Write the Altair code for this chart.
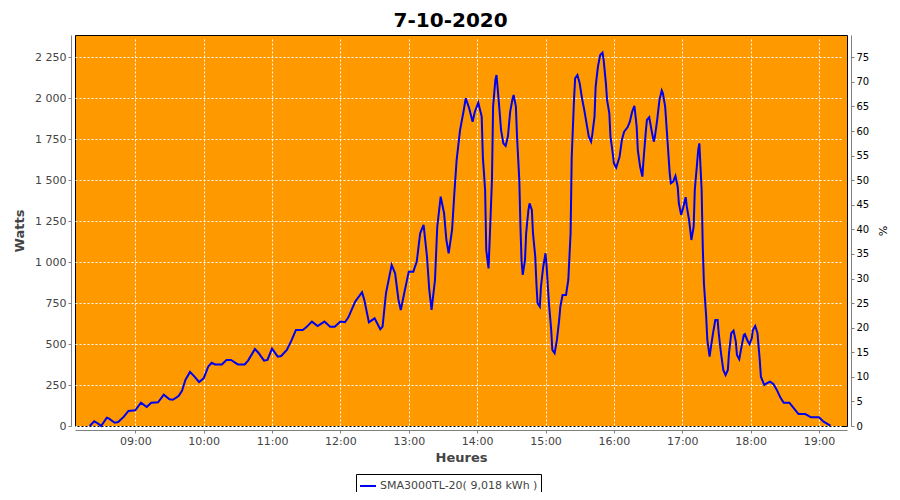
import altair as alt
import pandas as pd

title_text = "7-10-2020"
series_name = "SMA3000TL-20( 9,018 kWh )"

times = [
    "08:20", "08:24", "08:28", "08:30", "08:35", "08:37", "08:42", "08:45", "08:50", "08:54",
    "09:00", "09:05", "09:10", "09:14", "09:20", "09:25", "09:30", "09:33", "09:38", "09:41",
    "09:44", "09:48", "09:52", "09:56", "10:00", "10:04", "10:07", "10:10", "10:16", "10:20",
    "10:24", "10:30", "10:36", "10:39", "10:45", "10:48", "10:53", "10:56", "11:00", "11:05",
    "11:08", "11:13", "11:17", "11:21", "11:27", "11:30", "11:35", "11:40", "11:46", "11:51",
    "11:55", "12:00", "12:04", "12:07", "12:13", "12:19", "12:21", "12:25", "12:30", "12:35",
    "12:37", "12:40", "12:45", "12:48", "12:51", "12:53", "12:56", "13:00", "13:04", "13:07",
    "13:10", "13:13", "13:16", "13:18", "13:20", "13:23", "13:25", "13:28", "13:31", "13:33",
    "13:35", "13:38", "13:40", "13:42", "13:45", "13:48", "13:50", "13:53", "13:56", "13:58",
    "14:01", "14:04", "14:05", "14:07", "14:08", "14:10", "14:11", "14:13", "14:14", "14:16",
    "14:17", "14:19", "14:21", "14:23", "14:25", "14:27", "14:29", "14:31", "14:32", "14:34",
    "14:35", "14:37", "14:38", "14:39", "14:40", "14:42", "14:43", "14:45", "14:46", "14:48",
    "14:49", "14:51", "14:52", "14:53", "14:55", "14:56", "14:58", "15:00", "15:01", "15:03",
    "15:05", "15:06", "15:08", "15:10", "15:12", "15:13", "15:15", "15:18", "15:20", "15:22",
    "15:23", "15:25", "15:26", "15:28", "15:30", "15:32", "15:34", "15:36", "15:38", "15:40",
    "15:41", "15:43", "15:44", "15:46", "15:48", "15:50", "15:51", "15:53", "15:54", "15:56",
    "15:57", "15:59", "16:00", "16:02", "16:05", "16:07", "16:09", "16:12", "16:14", "16:16",
    "16:18", "16:20", "16:21", "16:23", "16:25", "16:26", "16:28", "16:29", "16:31", "16:33",
    "16:35", "16:36", "16:38", "16:40", "16:42", "16:43", "16:45", "16:47", "16:49", "16:50",
    "16:52", "16:54", "16:56", "16:57", "16:59", "17:01", "17:03", "17:04", "17:06", "17:08",
    "17:10", "17:11", "17:13", "17:14", "17:15", "17:17", "17:18", "17:19", "17:21", "17:22",
    "17:24", "17:25", "17:27", "17:29", "17:31", "17:32", "17:34", "17:36", "17:38", "17:40",
    "17:41", "17:43", "17:45", "17:47", "17:48", "17:50", "17:52", "17:54", "17:55", "17:57",
    "17:59", "18:01", "18:02", "18:04", "18:06", "18:08", "18:09", "18:12", "18:14", "18:17",
    "18:20", "18:23", "18:26", "18:29", "18:34", "18:38", "18:42", "18:48", "18:53", "19:00",
    "19:04", "19:10",
]

watts = [
    0, 29, 12, 0, 51, 45, 20, 24, 57, 92,
    96, 142, 116, 142, 145, 191, 163, 160, 183, 214,
    281, 330, 301, 268, 291, 362, 386, 376, 376, 403,
    403, 376, 376, 399, 470, 447, 399, 403, 472, 423,
    427, 464, 521, 586, 586, 602, 637, 610, 637, 606,
    606, 637, 633, 663, 759, 816, 769, 633, 657, 590,
    606, 810, 983, 932, 769, 708, 810, 942, 942, 1003,
    1176, 1227, 1033, 830, 708, 891, 1216, 1400, 1298, 1135,
    1054, 1196, 1420, 1623, 1806, 1918, 2000, 1939, 1857, 1918,
    1973, 1888, 1643, 1440, 1074, 962, 1135, 1501, 1949, 2112,
    2142, 1979, 1806, 1725, 1709, 1766, 1918, 1994, 2020, 1949,
    1766, 1501, 1216, 1003, 922, 1013, 1176, 1318, 1359, 1318,
    1176, 1033, 871, 749, 728, 850, 972, 1054, 972, 749,
    586, 464, 444, 525, 647, 728, 800, 800, 891, 1176,
    1643, 1990, 2122, 2142, 2091, 2000, 1929, 1847, 1766, 1735,
    1776, 1888, 2071, 2193, 2264, 2278, 2234, 2091, 1990, 1908,
    1766, 1664, 1603, 1576, 1643, 1745, 1796, 1823, 1857, 1918,
    1953, 1827, 1684, 1583, 1522, 1623, 1796, 1868, 1884, 1806,
    1735, 1766, 1868, 1990, 2047, 2030, 1949, 1745, 1542, 1481,
    1491, 1526, 1460, 1359, 1288, 1338, 1396, 1338, 1257, 1135,
    1216, 1440, 1603, 1684, 1725, 1440, 1094, 871, 667, 525,
    423, 474, 566, 647, 647, 566, 444, 342, 311, 342,
    444, 566, 582, 515, 433, 407, 484, 555, 561, 525,
    500, 535, 586, 610, 566, 403, 301, 250, 260, 270,
    256, 220, 175, 142, 142, 108, 73, 73, 53, 53,
    26, 2,
]

watt_ticks = [0, 250, 500, 750, 1000, 1250, 1500, 1750, 2000, 2250]
pct_ticks = [0, 5, 10, 15, 20, 25, 30, 35, 40, 45, 50, 55, 60, 65, 70, 75]
hour_ticks = [9, 10, 11, 12, 13, 14, 15, 16, 17, 18, 19]

df = pd.DataFrame({
    "t": ["2020-10-07T" + s + ":00" for s in times],
    "w": watts,
    "serie": [series_name] * len(times),
})


def dt(h, m=0, s=0):
    return alt.DateTime(year=2020, month=10, date=7, hours=h, minutes=m, seconds=s)


FONT = "DejaVu Sans"
x_enc = alt.X(
    "t:T",
    scale=alt.Scale(domain=[dt(8, 7, 6), dt(19, 24, 34)], nice=False),
    axis=alt.Axis(
        values=[dt(h) for h in hour_ticks],
        format="%H:%M",
        title="Heures",
        grid=True,
        gridColor="white",
        gridDash=[2, 2],
        gridWidth=1,
        gridOpacity=1,
        titlePadding=5,
    ),
)

line = alt.Chart(df).mark_line(strokeWidth=2, interpolate="linear").encode(
    x=x_enc,
    y=alt.Y(
        "w:Q",
        scale=alt.Scale(domain=[0, 2386], nice=False),
        axis=alt.Axis(
            values=watt_ticks,
            labelExpr="replace(format(datum.value, ','), ',', ' ')",
            title="Watts",
            grid=True,
            gridColor="white",
            gridDash=[2, 2],
            gridWidth=1,
            gridOpacity=1,
            titlePadding=8,
        ),
    ),
    color=alt.Color(
        "serie:N",
        scale=alt.Scale(range=["#0000ee"]),
        legend=alt.Legend(
            title=None,
            orient="none",
            legendX=281,
            legendY=439,
            direction="horizontal",
            strokeColor="black",
            fillColor="white",
            padding=3,
            symbolType="stroke",
            symbolStrokeWidth=2,
            symbolSize=256,
            labelOffset=3,
            labelFont=FONT,
            labelFontSize=11,
            labelColor="#444444",
        ),
    ),
)

right = alt.Chart(df).mark_rule(opacity=0).encode(
    y=alt.YDatum(
        datum=0,
        type="quantitative",
        scale=alt.Scale(domain=[0, 79.53], nice=False),
        axis=alt.Axis(
            orient="right",
            values=pct_ticks,
            title="%",
            grid=False,
            labelColor="black",
            labelFontSize=10,
            titleColor="black",
            titleFontWeight="normal",
            titleFontSize=11,
            titlePadding=8,
        ),
    )
)

chart = (
    alt.layer(line, right)
    .resolve_scale(y="independent")
    .properties(
        width=772,
        height=391,
        padding={"left": 67, "top": 27, "right": 45, "bottom": 66},
        autosize=alt.AutoSizeParams(type="none"),
        background="white",
        title=alt.TitleParams(
            title_text,
            font=FONT,
            fontSize=20,
            fontWeight="bold",
            color="black",
            anchor="middle",
            frame="bounds",
            offset=4,
        ),
    )
    .configure_view(fill="#FF9900", stroke="black", strokeWidth=1)
    .configure_axis(
        labelFont=FONT,
        labelFontSize=11,
        labelColor="#444444",
        titleFont=FONT,
        titleFontSize=13,
        titleFontWeight="bold",
        titleColor="#444444",
        domainColor="#808080",
        tickColor="#808080",
        tickSize=3,
        offset=4,
        labelPadding=2,
    )
)

chart.save("out.html", embed_options={"renderer": "svg", "actions": False})
